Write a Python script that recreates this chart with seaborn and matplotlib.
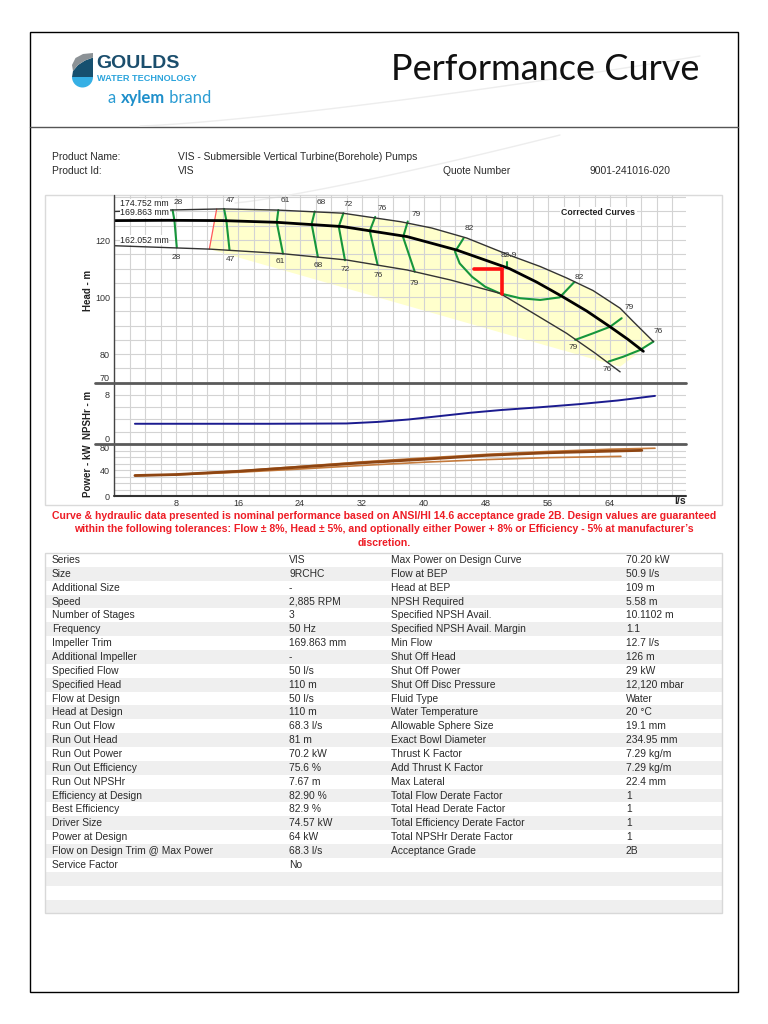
import numpy as np
import pandas as pd
import matplotlib
matplotlib.use("Agg")
import matplotlib.pyplot as plt
import seaborn as sns
from matplotlib.patches import Rectangle, Polygon, Wedge

# ---------------- data ----------------
trim_labels = ["174.752 mm", "169.863 mm", "162.052 mm"]

flow_174 = [0, 7, 14, 21, 29.5, 37, 41, 45.5, 51, 55, 58.4, 61.8, 65.3, 67, 69.6]
head_174 = [130.0, 130.5, 130.9, 130.5, 129.4, 126.4, 124.2, 120.7, 114.7, 110.7, 106.7, 102.3, 96.1, 91.4, 84.4]

flow_169 = [0, 7, 14, 21, 29.5, 37.8, 44.2, 51, 54.5, 57.9, 61, 64, 66.3, 68.3]
head_169 = [126.8, 126.9, 126.8, 126.2, 124.7, 121.2, 116.5, 110.0, 105.3, 100.1, 95.1, 89.6, 85.2, 81.0]

flow_162 = [0, 12.4, 21.4, 30, 37.8, 43.4, 49.8, 54, 58.4, 62, 65.3]
head_162 = [118.0, 116.8, 115.3, 113.0, 109.5, 106.0, 101.3, 94.5, 87.3, 80.5, 73.8]

# operating region (min flow line + lower bound)
minflow_flow = [13.25, 12.3]
minflow_head = [130.9, 116.8]
region_low_flow = [65.3, 12.3]
region_low_head = [75.6, 116.8]

# iso-efficiency lines
eff_lines = {
    "28": ([7.56, 7.8, 8.1], [130.5, 126.8, 117.4]),
    "47": ([14.2, 14.5, 14.9], [130.9, 126.8, 116.6]),
    "61": ([21.2, 21.0, 21.8], [130.5, 126.2, 115.2]),
    "68": ([25.9, 25.5, 26.3], [130.0, 125.6, 114.1]),
    "72": ([29.6, 29.0, 29.8], [129.4, 124.7, 112.9]),
    "76": ([33.7, 33.0, 34.0], [128.1, 123.2, 111.4]),
    "79": ([37.9, 37.3, 38.8], [126.5, 121.0, 108.9]),
    "82": ([45.1, 44.0, 44.6, 46.2, 47.9, 49.8, 52.4, 55.0, 57.5, 59.4],
           [120.6, 115.9, 111.8, 107.1, 103.6, 101.3, 99.6, 99.0, 99.9, 105.3]),
    "79b": ([65.5, 64.0, 61.8, 59.5], [92.6, 89.6, 87.3, 85.0]),
    "76b": ([69.6, 67.9, 65.7, 63.8], [84.4, 81.5, 79.1, 77.4]),
    "bep": ([50.7, 50.7], [110.1, 112.4]),
}
eff_label_text = ["28", "28", "47", "47", "61", "61", "68", "68", "72", "72", "76", "76",
                  "79", "79", "82", "82", "82.9", "79", "79", "76", "76"]
eff_label_flow = [8.3, 8.0, 15.0, 15.0, 22.1, 21.5, 26.8, 26.3, 30.2, 29.8, 34.6, 34.1,
                  39.0, 38.7, 45.8, 60.0, 50.9, 66.5, 59.2, 70.2, 63.6]
eff_label_head = [133.0, 114.0, 134.0, 113.3, 134.0, 112.3, 133.3, 110.9, 132.3, 109.5, 130.9, 107.7,
                  129.1, 104.6, 123.9, 107.0, 114.4, 96.2, 82.2, 88.1, 74.5]

design_h_flow = [46.5, 50.0]
design_h_head = [110.0, 110.0]
design_v_flow = [50.0, 50.0]
design_v_head = [110.0, 101.0]

npsh_flow = [2.7, 10, 20, 30, 34, 38, 42, 46, 50, 55, 60, 65, 69.8]
npsh_val = [3.3, 3.3, 3.3, 3.35, 3.6, 4.0, 4.55, 5.1, 5.55, 6.0, 6.5, 7.1, 7.85]

pow_flow_174 = [2.7, 8, 16, 24, 32, 40, 48, 56, 64, 69.8]
pow_174 = [31.5, 33, 38.5, 45.5, 52.5, 58.5, 64, 68.5, 72, 73.5]
pow_flow_169 = [2.7, 8, 16, 24, 32, 40, 48, 56, 64, 68.1]
pow_169 = [31.5, 33, 38, 44.5, 51, 56.5, 62.5, 66.5, 69, 70.2]
pow_flow_162 = [2.7, 8, 16, 24, 32, 40, 48, 56, 65.4]
pow_162 = [31.5, 32.5, 36.5, 41.5, 47, 52, 56, 59, 61]

flow_ticks = [8, 16, 24, 32, 40, 48, 56, 64]
head_ticks = [70, 80, 100, 120]
npsh_ticks = [0, 8]
power_ticks = [0, 40, 80]

left_labels = ["Series", "Size", "Additional Size", "Speed", "Number of Stages", "Frequency",
               "Impeller Trim", "Additional Impeller", "Specified Flow", "Specified Head",
               "Flow at Design", "Head at Design", "Run Out Flow", "Run Out Head", "Run Out Power",
               "Run Out Efficiency", "Run Out NPSHr", "Efficiency at Design", "Best Efficiency",
               "Driver Size", "Power at Design", "Flow on Design Trim @ Max Power", "Service Factor"]
left_values = ["VIS", "9RCHC", "-", "2,885 RPM", "3", "50 Hz", "169.863 mm", "-", "50 l/s", "110 m",
               "50 l/s", "110 m", "68.3 l/s", "81 m", "70.2 kW", "75.6 %", "7.67 m", "82.90 %",
               "82.9 %", "74.57 kW", "64 kW", "68.3 l/s", "No"]
right_labels = ["Max Power on Design Curve", "Flow at BEP", "Head at BEP", "NPSH Required",
                "Specified NPSH Avail.", "Specified NPSH Avail. Margin", "Min Flow", "Shut Off Head",
                "Shut Off Power", "Shut Off Disc Pressure", "Fluid Type", "Water Temperature",
                "Allowable Sphere Size", "Exact Bowl Diameter", "Thrust K Factor", "Add Thrust K Factor",
                "Max Lateral", "Total Flow Derate Factor", "Total Head Derate Factor",
                "Total Efficiency Derate Factor", "Total NPSHr Derate Factor", "Acceptance Grade"]
right_values = ["70.20 kW", "50.9 l/s", "109 m", "5.58 m", "10.1102 m", "1.1", "12.7 l/s", "126 m",
                "29 kW", "12,120 mbar", "Water", "20 °C", "19.1 mm", "234.95 mm", "7.29 kg/m",
                "7.29 kg/m", "22.4 mm", "1", "1", "1", "1", "2B"]

notice_lines = [
    "Curve & hydraulic data presented is nominal performance based on ANSI/HI 14.6 acceptance grade 2B. Design values are guaranteed",
    "within the following tolerances: Flow \u00b1 8%, Head \u00b1 5%, and optionally either Power + 8% or Efficiency - 5% at manufacturer\u2019s",
    "discretion.",
]

# ---------------- figure ----------------
sns.set_theme(style="white")
plt.rcParams['font.family'] = ['Liberation Sans', 'DejaVu Sans']

W, H = 768, 1024
fig = plt.figure(figsize=(W / 100, H / 100), dpi=100)
fig.patch.set_facecolor('white')

pg = fig.add_axes([0, 0, 1, 1], zorder=0)
pg.set_xlim(0, W); pg.set_ylim(H, 0); pg.axis('off')
top = fig.add_axes([0, 0, 1, 1], zorder=5)
top.set_xlim(0, W); top.set_ylim(H, 0); top.axis('off')
top.patch.set_alpha(0)

def rect(x0, y0, x1, y1):
    return [x0 / W, 1 - y1 / H, (x1 - x0) / W, (y1 - y0) / H]

TABLE_FONT = ['Liberation Sans Narrow', 'Liberation Sans', 'DejaVu Sans']
TXT = '#2b2b2b'
TS = 7.4

# page frame & header
pg.add_patch(Rectangle((30, 32), 708, 960, fill=False, ec='black', lw=1.0))
pg.plot([30, 738], [127, 127], color='#555555', lw=1.0)
# faint decorative swooshes
sx = np.linspace(140, 700, 50)
pg.plot(sx, 126 - 70 * ((sx - 140) / 560) ** 1.3, color='#ededed', lw=1)
sx2 = np.linspace(235, 560, 30)
pg.plot(sx2, 203 - 68 * ((sx2 - 235) / 325) ** 1.2, color='#ededed', lw=1)

# logo
pg.add_patch(Wedge((82.5, 77), 10.5, 0, 180, color='#36b0e5', lw=0))
pg.add_patch(Polygon([(72, 77), (73, 71), (78, 65), (85, 60.5), (93, 57.5), (93, 77)],
                     closed=True, color='#16506f', lw=0))
pg.add_patch(Polygon([(73, 71), (72, 65), (75.5, 58), (83, 54), (93, 53), (93, 57.5), (85, 60.5), (78, 65)],
                     closed=True, color='#8c9296', lw=0))
pg.text(96, 68, "GOULDS", fontsize=14, fontweight='bold', color='#1b4e6d', va='baseline', ha='left')
pg.text(97, 81, "WATER TECHNOLOGY", fontsize=6.6, fontweight='bold', color='#2ba4dc', va='baseline',
        ha='left', family=TABLE_FONT)
t1 = pg.text(108, 103, "a ", fontsize=12, color='#2b9cd3', va='baseline', ha='left', family=['Lato', 'DejaVu Sans'])
fig.canvas.draw()
r = fig.canvas.get_renderer()
bb = t1.get_window_extent(r)
x_next = 108 + bb.width
t2 = pg.text(x_next, 103, "xylem", fontsize=12, fontweight='bold', color='#1f8fca', va='baseline', ha='left',
             family=['Lato', 'DejaVu Sans'])
bb2 = t2.get_window_extent(r)
pg.text(x_next + bb2.width, 103, " brand", fontsize=12, color='#2b9cd3', va='baseline', ha='left',
        family=['Lato', 'DejaVu Sans'])

pg.text(391, 80, "Performance Curve", fontsize=26, color='#111111', va='baseline', ha='left',
        family=['Lato', 'DejaVu Sans'])

# product info
for (x, y, s) in [(52, 157, "Product Name:"), (178, 157, "VIS - Submersible Vertical Turbine(Borehole) Pumps"),
                  (52, 171, "Product Id:"), (178, 171, "VIS"), (443, 171, "Quote Number"),
                  (590, 171, "9001-241016-020")]:
    pg.text(x, y, s, fontsize=TS, color=TXT, va='center', ha='left', family=TABLE_FONT)

# chart outer box
pg.add_patch(Rectangle((45, 195), 677, 310, fill=False, ec='#dadada', lw=1.0))

# ---------------- chart axes ----------------
X0, X1 = 114, 686
ax_h = fig.add_axes(rect(X0, 195, X1, 382.7), zorder=2)
ax_n = fig.add_axes(rect(X0, 382.7, X1, 444), zorder=2)
ax_p = fig.add_axes(rect(X0, 444, X1, 496), zorder=2)

for ax in (ax_h, ax_n, ax_p):
    ax.set_xlim(0, 73.8)
    ax.patch.set_alpha(0)
    ax.set_xticks(flow_ticks)
    ax.set_xticks(np.arange(0, 74, 2), minor=True)
    ax.grid(which='both', axis='both', color='#d3d3d3', lw=0.8)
    ax.set_axisbelow(True)
    ax.tick_params(which='both', length=0, labelsize=6.5, labelcolor='#333333', pad=3)
    for s in ax.spines.values():
        s.set_visible(False)

ax_h.set_ylim(70, 135.77)
ax_h.set_yticks(head_ticks)
ax_h.set_yticks(np.arange(70, 136, 5), minor=True)
ax_n.set_ylim(0, 10)
ax_n.set_yticks(npsh_ticks)
ax_n.set_yticks(np.arange(0, 11, 2), minor=True)
ax_p.set_ylim(0, 80)
ax_p.set_yticks(power_ticks)
ax_p.set_yticks(np.arange(0, 81, 10), minor=True)
ax_h.set_xticklabels([])
ax_n.set_xticklabels([])
ax_p.set_xticklabels([str(v) for v in flow_ticks])
ax_p.tick_params(axis='x', pad=2)

ax_h.get_yticklabels()[0].set_va('bottom')
ax_n.get_yticklabels()[0].set_va('bottom')
ax_p.get_yticklabels()[-1].set_va('top')

# operating region
mask = [f > minflow_flow[0] for f in flow_174]
poly_x = [minflow_flow[0]] + [f for f, m in zip(flow_174, mask) if m] + region_low_flow
poly_y = [minflow_head[0]] + [h for h, m in zip(head_174, mask) if m] + region_low_head
ax_h.fill(poly_x, poly_y, color='#ffffcc', lw=0, zorder=0.2)

def sline(ax, x, y, **kw):
    sns.lineplot(x=x, y=y, ax=ax, sort=False, estimator=None, legend=False, **kw)

sline(ax_h, minflow_flow, minflow_head, color='#ff5a5a', lw=0.9)
for key, (fx, fy) in eff_lines.items():
    sline(ax_h, fx, fy, color='#16963c', lw=1.5)
sline(ax_h, flow_174, head_174, color='#333333', lw=1.0)
sline(ax_h, flow_162, head_162, color='#333333', lw=1.0)
sline(ax_h, flow_169, head_169, color='#000000', lw=2.0)
sline(ax_h, design_h_flow, design_h_head, color='#ff1010', lw=2.6)
sline(ax_h, design_v_flow, design_v_head, color='#ff1010', lw=2.6)

for t, fx, fy in zip(eff_label_text, eff_label_flow, eff_label_head):
    ax_h.text(fx, fy, t, fontsize=6, color='#333333', ha='center', va='center', zorder=6)

for lbl, hy in zip(trim_labels, [132.7, 129.6, 120.0]):
    ax_h.text(0.8, hy, lbl, fontsize=6.3, color='#222222', ha='left', va='center', zorder=3,
              bbox=dict(facecolor='white', edgecolor='none', pad=0.3))
ax_h.text(62.5, 129.6, "Corrected Curves", fontsize=6.3, fontweight='bold', color='#222222',
          ha='center', va='center', bbox=dict(facecolor='white', edgecolor='none', pad=1.0))

sline(ax_n, npsh_flow, npsh_val, color='#1b1b8f', lw=1.4)

sline(ax_p, pow_flow_162, pow_162, color='#c47a3c', lw=1.2)
sline(ax_p, pow_flow_174, pow_174, color='#c47a3c', lw=1.2)
sline(ax_p, pow_flow_169, pow_169, color='#8e4512', lw=2.0)

for ax in (ax_h, ax_n, ax_p):
    ax.set_xlabel(""); ax.set_ylabel("")

# frame lines
top.plot([114, 114], [195, 496], color='#444444', lw=1.0)
top.plot([95, 686], [382.7, 382.7], color='#5a5a5a', lw=2.0)
top.plot([95, 686], [444, 444], color='#5a5a5a', lw=2.0)
top.plot([114, 686], [496, 496], color='#333333', lw=1.5)

pg.text(88, 290, "Head - m", rotation=90, fontsize=7, fontweight='bold', color='#222222', ha='center', va='center')
pg.text(88, 415, "NPSHr - m", rotation=90, fontsize=7, fontweight='bold', color='#222222', ha='center', va='center')
pg.text(88, 471, "Power - kW", rotation=90, fontsize=7, fontweight='bold', color='#222222', ha='center', va='center')
pg.text(680, 501, "l/s", fontsize=7.5, fontweight='bold', color='#222222', ha='center', va='center')

# notice
for i, line in enumerate(notice_lines):
    pg.text(384, 516 + 13.5 * i, line, fontsize=7.6, fontweight='bold', color='#ee1c25',
            ha='center', va='center', family=TABLE_FONT)

# ---------------- table ----------------
ROW0, RH = 553, 13.86
n_rows = 26
for i in range(n_rows):
    if i % 2 == 1:
        pg.add_patch(Rectangle((45, ROW0 + i * RH), 677, RH, color='#efefef', lw=0))
pg.add_patch(Rectangle((45, ROW0), 677, n_rows * RH, fill=False, ec='#d8d8d8', lw=1.0))

for i, (a, b) in enumerate(zip(left_labels, left_values)):
    yc = ROW0 + (i + 0.5) * RH
    pg.text(52, yc, a, fontsize=TS, color=TXT, va='center', ha='left', family=TABLE_FONT)
    pg.text(289, yc, b, fontsize=TS, color=TXT, va='center', ha='left', family=TABLE_FONT)
for i, (a, b) in enumerate(zip(right_labels, right_values)):
    yc = ROW0 + (i + 0.5) * RH
    pg.text(391, yc, a, fontsize=TS, color=TXT, va='center', ha='left', family=TABLE_FONT)
    pg.text(626, yc, b, fontsize=TS, color=TXT, va='center', ha='left', family=TABLE_FONT)

fig.savefig("out.png", dpi=100, facecolor='white')
